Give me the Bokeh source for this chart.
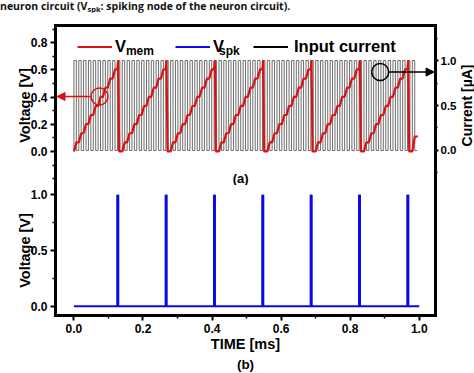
import math
from bokeh.plotting import figure
from bokeh.models import (Range1d, LinearAxis, FixedTicker, NumeralTickFormatter,
                          Legend, LegendItem, Label, Arrow, NormalHead, Title, Div)
from bokeh.layouts import column, row
from bokeh.embed import file_html
from bokeh.resources import INLINE

# ---------------- data ----------------
# input current square wave: rising edges of each pulse [ms]
pulse_rise_ms = [0.000, 0.014, 0.028, 0.042, 0.056, 0.070, 0.084, 0.098, 0.112, 0.126,
                 0.140, 0.154, 0.168, 0.182, 0.196, 0.210, 0.224, 0.238, 0.252, 0.266,
                 0.280, 0.294, 0.308, 0.322, 0.336, 0.350, 0.364, 0.378, 0.392, 0.406,
                 0.420, 0.434, 0.448, 0.462, 0.476, 0.490, 0.504, 0.518, 0.532, 0.546,
                 0.560, 0.574, 0.588, 0.602, 0.616, 0.630, 0.644, 0.658, 0.672, 0.686,
                 0.700, 0.714, 0.728, 0.742, 0.756, 0.770, 0.784, 0.798, 0.812, 0.826,
                 0.840, 0.854, 0.868, 0.882, 0.896, 0.910, 0.924, 0.938, 0.952, 0.966,
                 0.980]
pulse_width_ms = 0.007
current_high_uA = 1.0
current_end_ms = 0.994

# V_mem level reached after each input pulse [V] (0 = reset by a spike)
vmem_level_V = [0.067, 0.134, 0.201, 0.268, 0.335, 0.402, 0.469, 0.536, 0.603, 0.000,
                0.067, 0.134, 0.201, 0.268, 0.335, 0.402, 0.469, 0.536, 0.603, 0.000,
                0.067, 0.134, 0.201, 0.268, 0.335, 0.402, 0.469, 0.536, 0.603, 0.000,
                0.067, 0.134, 0.201, 0.268, 0.335, 0.402, 0.469, 0.536, 0.603, 0.000,
                0.067, 0.134, 0.201, 0.268, 0.335, 0.402, 0.469, 0.536, 0.603, 0.000,
                0.067, 0.134, 0.201, 0.268, 0.335, 0.402, 0.469, 0.536, 0.603, 0.000,
                0.067, 0.134, 0.201, 0.268, 0.335, 0.402, 0.469, 0.536, 0.603, 0.000,
                0.110]
vmem_peak_V = 0.67
vmem_end_ms = 0.996
spike_rise_ms = 0.001
reset_fall_ms = 0.004

# output spikes V_spk
spike_ms = [0.127, 0.267, 0.407, 0.547, 0.687, 0.827, 0.967]
spike_height_V = 1.0
vspk_end_ms = 1.0

# ticks
x_ticks = [0.0, 0.2, 0.4, 0.6, 0.8, 1.0]
x_minor = [0.1, 0.3, 0.5, 0.7, 0.9]
vmem_ticks = [0.0, 0.2, 0.4, 0.6, 0.8]
vmem_minor = [-0.2, -0.1, 0.1, 0.3, 0.5, 0.7, 0.9]
current_ticks = [0.0, 0.5, 1.0]
current_minor = [-0.25, 0.25, 0.75, 1.25]
vspk_ticks = [0.0, 0.5, 1.0]
vspk_minor = [0.25, 0.75]

# annotation markers (circles + arrows)
red_mark = dict(x=0.074, y=0.404, arrow_to=-0.049)
black_mark = dict(x=0.887, y=0.872, arrow_to=1.043)

FONT = "Liberation Sans"
RED = "#dd1111"
BLUE = "#0a0ae8"
GRAY = "#555555"
NAN = float("nan")
W = 474
SIDE_W = 15            # strip holding the right-axis title

# ---------------- build series ----------------
vm_t, vm_v = [0.0], [0.0]
prev, k = 0.0, 0
for r, lvl in zip(pulse_rise_ms, vmem_level_V):
    if lvl < prev:
        s = spike_ms[k]
        k += 1
        vm_t += [r, s + spike_rise_ms, s + reset_fall_ms]
        vm_v += [prev, vmem_peak_V, lvl]
    else:
        vm_t += [r, r + pulse_width_ms]
        vm_v += [prev, lvl]
    prev = lvl
vm_t.append(vmem_end_ms)
vm_v.append(prev)

cur_t, cur_v = [], []
for r in pulse_rise_ms:
    cur_t += [r, r, r + pulse_width_ms, r + pulse_width_ms]
    cur_v += [0.0, current_high_uA, current_high_uA, 0.0]
cur_t.append(current_end_ms)
cur_v.append(0.0)

sp_t, sp_v = [0.0], [0.0]
for s in spike_ms:
    sp_t += [s, s, s]
    sp_v += [0.0, spike_height_V, 0.0]
sp_t.append(vspk_end_ms)
sp_v.append(0.0)


def style_axis(ax, label=None, tick_size="12px"):
    ax.axis_line_width = 3
    ax.axis_line_color = "black"
    ax.axis_line_cap = "square"
    ax.major_tick_line_width = 2
    ax.major_tick_line_color = "black"
    ax.minor_tick_line_color = "black"
    ax.major_tick_out = 5
    ax.major_tick_in = 0
    ax.minor_tick_line_width = 1.5
    ax.minor_tick_out = 3
    ax.minor_tick_in = 0
    ax.major_label_text_font = FONT
    ax.major_label_text_font_style = "bold"
    ax.major_label_text_font_size = tick_size
    ax.major_label_text_color = "black"
    ax.major_label_standoff = 3
    ax.axis_label_text_font = FONT
    ax.axis_label_text_font_style = "bold"
    ax.axis_label_text_font_size = "14.5px"
    ax.axis_label_text_color = "black"
    ax.axis_label_standoff = 0
    ax.formatter = NumeralTickFormatter(format="0.0")
    if label:
        ax.axis_label = label


def spine_axis(**kw):
    ax = LinearAxis(ticker=FixedTicker(ticks=[], minor_ticks=[]), **kw)
    ax.axis_line_width = 3
    ax.axis_line_color = "black"
    ax.axis_line_cap = "square"
    ax.major_tick_out = 0
    ax.minor_tick_out = 0
    ax.major_label_standoff = 0
    return ax


x_range = Range1d(-0.0534, 1.0471)
cur_range = Range1d(-0.389, 1.389)

# ---------------- header line (caption text at the top of the picture) ----------------
header = Div(text="neuron circuit (V<sub style='font-size:7.5px;line-height:0;vertical-align:-2px'>spk</sub>"
                  ": spiking node of the neuron circuit).",
             width=W, height=12, margin=0,
             styles={"font-family": "Open Sans", "font-weight": "bold", "font-size": "10.5px",
                     "line-height": "12px", "white-space": "nowrap", "color": "#111111"})

# ---------------- top panel (a) ----------------
p1 = figure(width=W - SIDE_W, height=173, output_backend="svg", toolbar_location=None,
            x_range=x_range, y_range=Range1d(-0.25, 0.926),
            x_axis_type=None, y_axis_type=None,
            min_border_left=55, min_border_right=39 - SIDE_W, min_border_top=13, min_border_bottom=0)
p1.outline_line_color = None
p1.extra_y_ranges = {"cur": cur_range}

ax = LinearAxis(ticker=FixedTicker(ticks=vmem_ticks, minor_ticks=vmem_minor))
style_axis(ax, "Voltage [V]")
ax.axis_label_standoff = -5
p1.add_layout(ax, "left")
ax = LinearAxis(y_range_name="cur", ticker=FixedTicker(ticks=current_ticks, minor_ticks=current_minor))
style_axis(ax, None, tick_size="11.5px")
ax.major_tick_out = 3
ax.minor_tick_out = 2
ax.major_label_standoff = 2
p1.add_layout(ax, "right")
p1.add_layout(spine_axis(), "above")

r_cur = p1.line(cur_t, cur_v, y_range_name="cur", line_color=GRAY, line_width=0.85)
r_vmem = p1.line(vm_t, vm_v, line_color=RED, line_width=2.2)
# legend keys (no visible data in this panel)
r_vspk_key = p1.line(x=[NAN], y=[NAN], line_color=BLUE, line_width=2.2)
r_cur_key = p1.line(x=[NAN], y=[NAN], line_color="black", line_width=2)

# annotation circles and arrows
p1.scatter(x=[red_mark["x"]], y=[red_mark["y"]], marker="circle", size=17,
           fill_color=None, line_color=RED, line_width=1.5)
p1.add_layout(Arrow(end=NormalHead(size=8, fill_color=RED, line_color=RED),
                    x_start=red_mark["x"] - 0.024, y_start=red_mark["y"],
                    x_end=red_mark["arrow_to"], y_end=red_mark["y"],
                    line_color=RED, line_width=1.5))
p1.scatter(x=[black_mark["x"]], y=[black_mark["y"]], y_range_name="cur", marker="circle", size=17,
           fill_color=None, line_color="black", line_width=1.5)
p1.add_layout(Arrow(end=NormalHead(size=8, fill_color="black", line_color="black"),
                    x_start=black_mark["x"] + 0.024, y_start=black_mark["y"],
                    x_end=black_mark["arrow_to"], y_end=black_mark["y"], y_range_name="cur",
                    line_color="black", line_width=1.5))


def make_legend(label, renderer, loc, standoff):
    return Legend(items=[LegendItem(label=label, renderers=[renderer])], location=loc,
                  orientation="horizontal", padding=0, margin=0, spacing=0,
                  border_line_color=None, background_fill_alpha=0,
                  glyph_width=35, glyph_height=7, label_height=20, label_standoff=standoff,
                  label_text_font=FONT, label_text_font_style="bold",
                  label_text_font_size="16.5px", label_text_color="black")


p1.add_layout(make_legend("V", r_vmem, (22, 128.5), 3))
p1.add_layout(make_legend("V", r_vspk_key, (120, 128.5), 3))
p1.add_layout(make_legend("Input current", r_cur_key, (198, 128.5), 6))

sub_kw = dict(text_font=FONT, text_font_style="bold", text_font_size="12px",
              text_baseline="alphabetic", text_align="left", text_color="black")
p1.add_layout(Label(x=0.1506, y=0.7375, text="mem", **sub_kw))
p1.add_layout(Label(x=0.420, y=0.7375, text="spk", **sub_kw))

p1.add_layout(Label(x=0.483, y=-0.195, text="(a)", text_font=FONT, text_font_style="bold",
                    text_font_size="13px", text_align="center", text_baseline="middle",
                    text_color="black"))

# strip to the right of panel (a) carrying the current-axis title (bottom-to-top)
side = figure(width=SIDE_W, height=173, output_backend="svg", toolbar_location=None,
              x_range=Range1d(0, 1), y_range=cur_range,
              x_axis_type=None, y_axis_type=None,
              min_border_left=0, min_border_right=0, min_border_top=13, min_border_bottom=0)
side.outline_line_color = None
side.add_layout(Label(x=0.5, y=0.5, text="Current [µA]", angle=math.pi / 2, angle_units="rad",
                      text_align="center", text_baseline="middle", text_font=FONT,
                      text_font_style="bold", text_font_size="14px", text_color="black"))

# ---------------- bottom panel (b) ----------------
p2 = figure(width=W, height=188, output_backend="svg", toolbar_location=None,
            x_range=x_range, y_range=Range1d(-0.0835, 1.0835),
            x_axis_type=None, y_axis_type=None,
            min_border_left=55, min_border_right=39, min_border_top=0, min_border_bottom=58)
p2.outline_line_color = None

ax = LinearAxis(ticker=FixedTicker(ticks=vspk_ticks, minor_ticks=vspk_minor))
style_axis(ax, "Voltage [V]")
ax.axis_label_standoff = -5
p2.add_layout(ax, "left")
ax = LinearAxis(ticker=FixedTicker(ticks=x_ticks, minor_ticks=x_minor))
style_axis(ax, "TIME [ms]")
p2.add_layout(ax, "below")
p2.add_layout(spine_axis(), "right")
p2.add_layout(Title(text="(b)", align="center", text_font=FONT, text_font_style="bold",
                    text_font_size="13.5px", text_color="black", standoff=0, offset=0), "below")

p2.line(sp_t, sp_v, line_color=BLUE, line_width=2)
p2.segment(x0=spike_ms, y0=[0.0] * len(spike_ms), x1=spike_ms, y1=[spike_height_V] * len(spike_ms),
           line_color=BLUE, line_width=3)

layout = column(header, row(p1, side, spacing=0), p2, spacing=0)
open("out.html", "w").write(file_html(layout, INLINE))
